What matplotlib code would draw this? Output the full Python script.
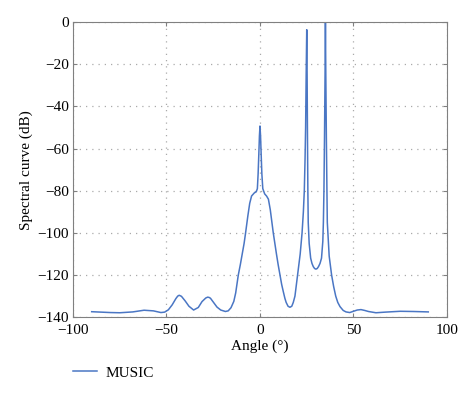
import numpy as np
import matplotlib.pyplot as plt

# MUSIC spectrum
angle = [-90, -80, -75, -68, -62, -57, -53, -51, -49, -47, -45, -44, -43.2, -42,
         -40, -38, -35.5, -33, -31, -29, -28, -27.3, -26.5, -25, -23, -21, -18.5,
         -17, -15.5, -14, -13, -11.6, -10.5, -9.5, -8.5, -7.7, -6.5, -5.5, -4.5,
         -3, -2, -1.4, -1, -0.6, -0.3, 0, 0.3, 0.6, 1, 1.5, 2.5, 3.5, 4.5, 5.5,
         6.3, 7.1, 8.8, 9.7, 10.7, 11.6, 12.5, 13.3, 14, 15, 16, 17, 17.8, 18.7,
         20.1, 21.5, 22.5, 23.2, 23.7, 24.1, 24.4, 24.7, 25, 25.2, 25.4, 25.6,
         25.8, 26.3, 27.1, 27.8, 28.5, 29.2, 29.9, 30.6, 31.3, 32.1, 32.9, 33.6,
         33.9, 34.2, 34.5, 34.8, 35, 35.2, 35.5, 35.8, 36, 37, 38.3, 39.4, 40.5,
         41.6, 42.8, 44.5, 46, 48, 50, 52, 54, 56, 58, 62, 67, 75, 82, 90]
spectrum = [-137.4, -137.8, -137.9, -137.5, -136.7, -137.0, -137.8, -137.6, -136.5,
            -134.2, -131.2, -130.0, -129.6, -130.1, -132.3, -134.8, -136.6, -135.4,
            -132.6, -130.9, -130.5, -130.6, -131.0, -132.8, -135.2, -136.6, -137.3,
            -137.0, -135.5, -132.5, -128.5, -120.0, -115.0, -110.0, -105.0, -100.0,
            -92.0, -86.0, -82.5, -81.0, -80.5, -79.0, -72.0, -62.0, -54.0, -49.3,
            -54.0, -62.0, -72.0, -79.0, -81.5, -82.5, -84.0, -89.0, -94.5, -100.0,
            -110.0, -115.0, -120.0, -124.5, -128.0, -131.0, -133.0, -134.8, -135.3,
            -134.8, -133.0, -130.0, -120.0, -110.0, -100.0, -90.0, -80.0, -65.0,
            -50.0, -25.0, -3.6, -25.0, -55.0, -80.0, -95.0, -105.0, -112.0, -114.5,
            -116.0, -116.9, -117.2, -116.9, -116.0, -114.5, -112.0, -104.0, -95.0,
            -80.0, -55.0, -25.0, 0.0, -25.0, -55.0, -80.0, -95.0, -111.0, -120.0,
            -125.5, -130.0, -133.0, -135.0, -136.8, -137.5, -137.8, -137.2, -136.6,
            -136.4, -136.8, -137.3, -137.9, -137.6, -137.2, -137.3, -137.5]

plt.rcParams['font.family'] = ['Liberation Serif', 'DejaVu Serif']

fig = plt.figure(figsize=(4.74, 3.95), dpi=100)
ax = fig.add_axes([0.154, 0.197, 0.789, 0.747])

line, = ax.plot(angle, spectrum, color='#4a76c4', linewidth=1.1, label='MUSIC')

ax.set_xlim(-100, 100)
ax.set_ylim(-140, 0)
ax.set_xticks(np.arange(-100, 101, 50))
ax.set_yticks(np.arange(-140, 1, 20))
ax.set_xlabel('Angle (°)', fontsize=11, labelpad=2)
ax.set_ylabel('Spectral curve (dB)', fontsize=11, labelpad=3)
ax.tick_params(axis='both', direction='in', length=3, labelsize=11,
               top=True, right=True, color='#808080')
ax.tick_params(axis='x', pad=5)
ax.tick_params(axis='y', pad=3)
ax.grid(True, linestyle=(0, (1, 4)), color='#aaaaaa', linewidth=0.9)
for s in ax.spines.values():
    s.set_color('#808080')

fig.legend(handles=[line], loc='center left', bbox_to_anchor=(0.154, 0.056),
           frameon=False, fontsize=11, handlelength=1.6, handletextpad=0.55,
           borderpad=0, borderaxespad=0)

fig.savefig('out.png', dpi=100)
